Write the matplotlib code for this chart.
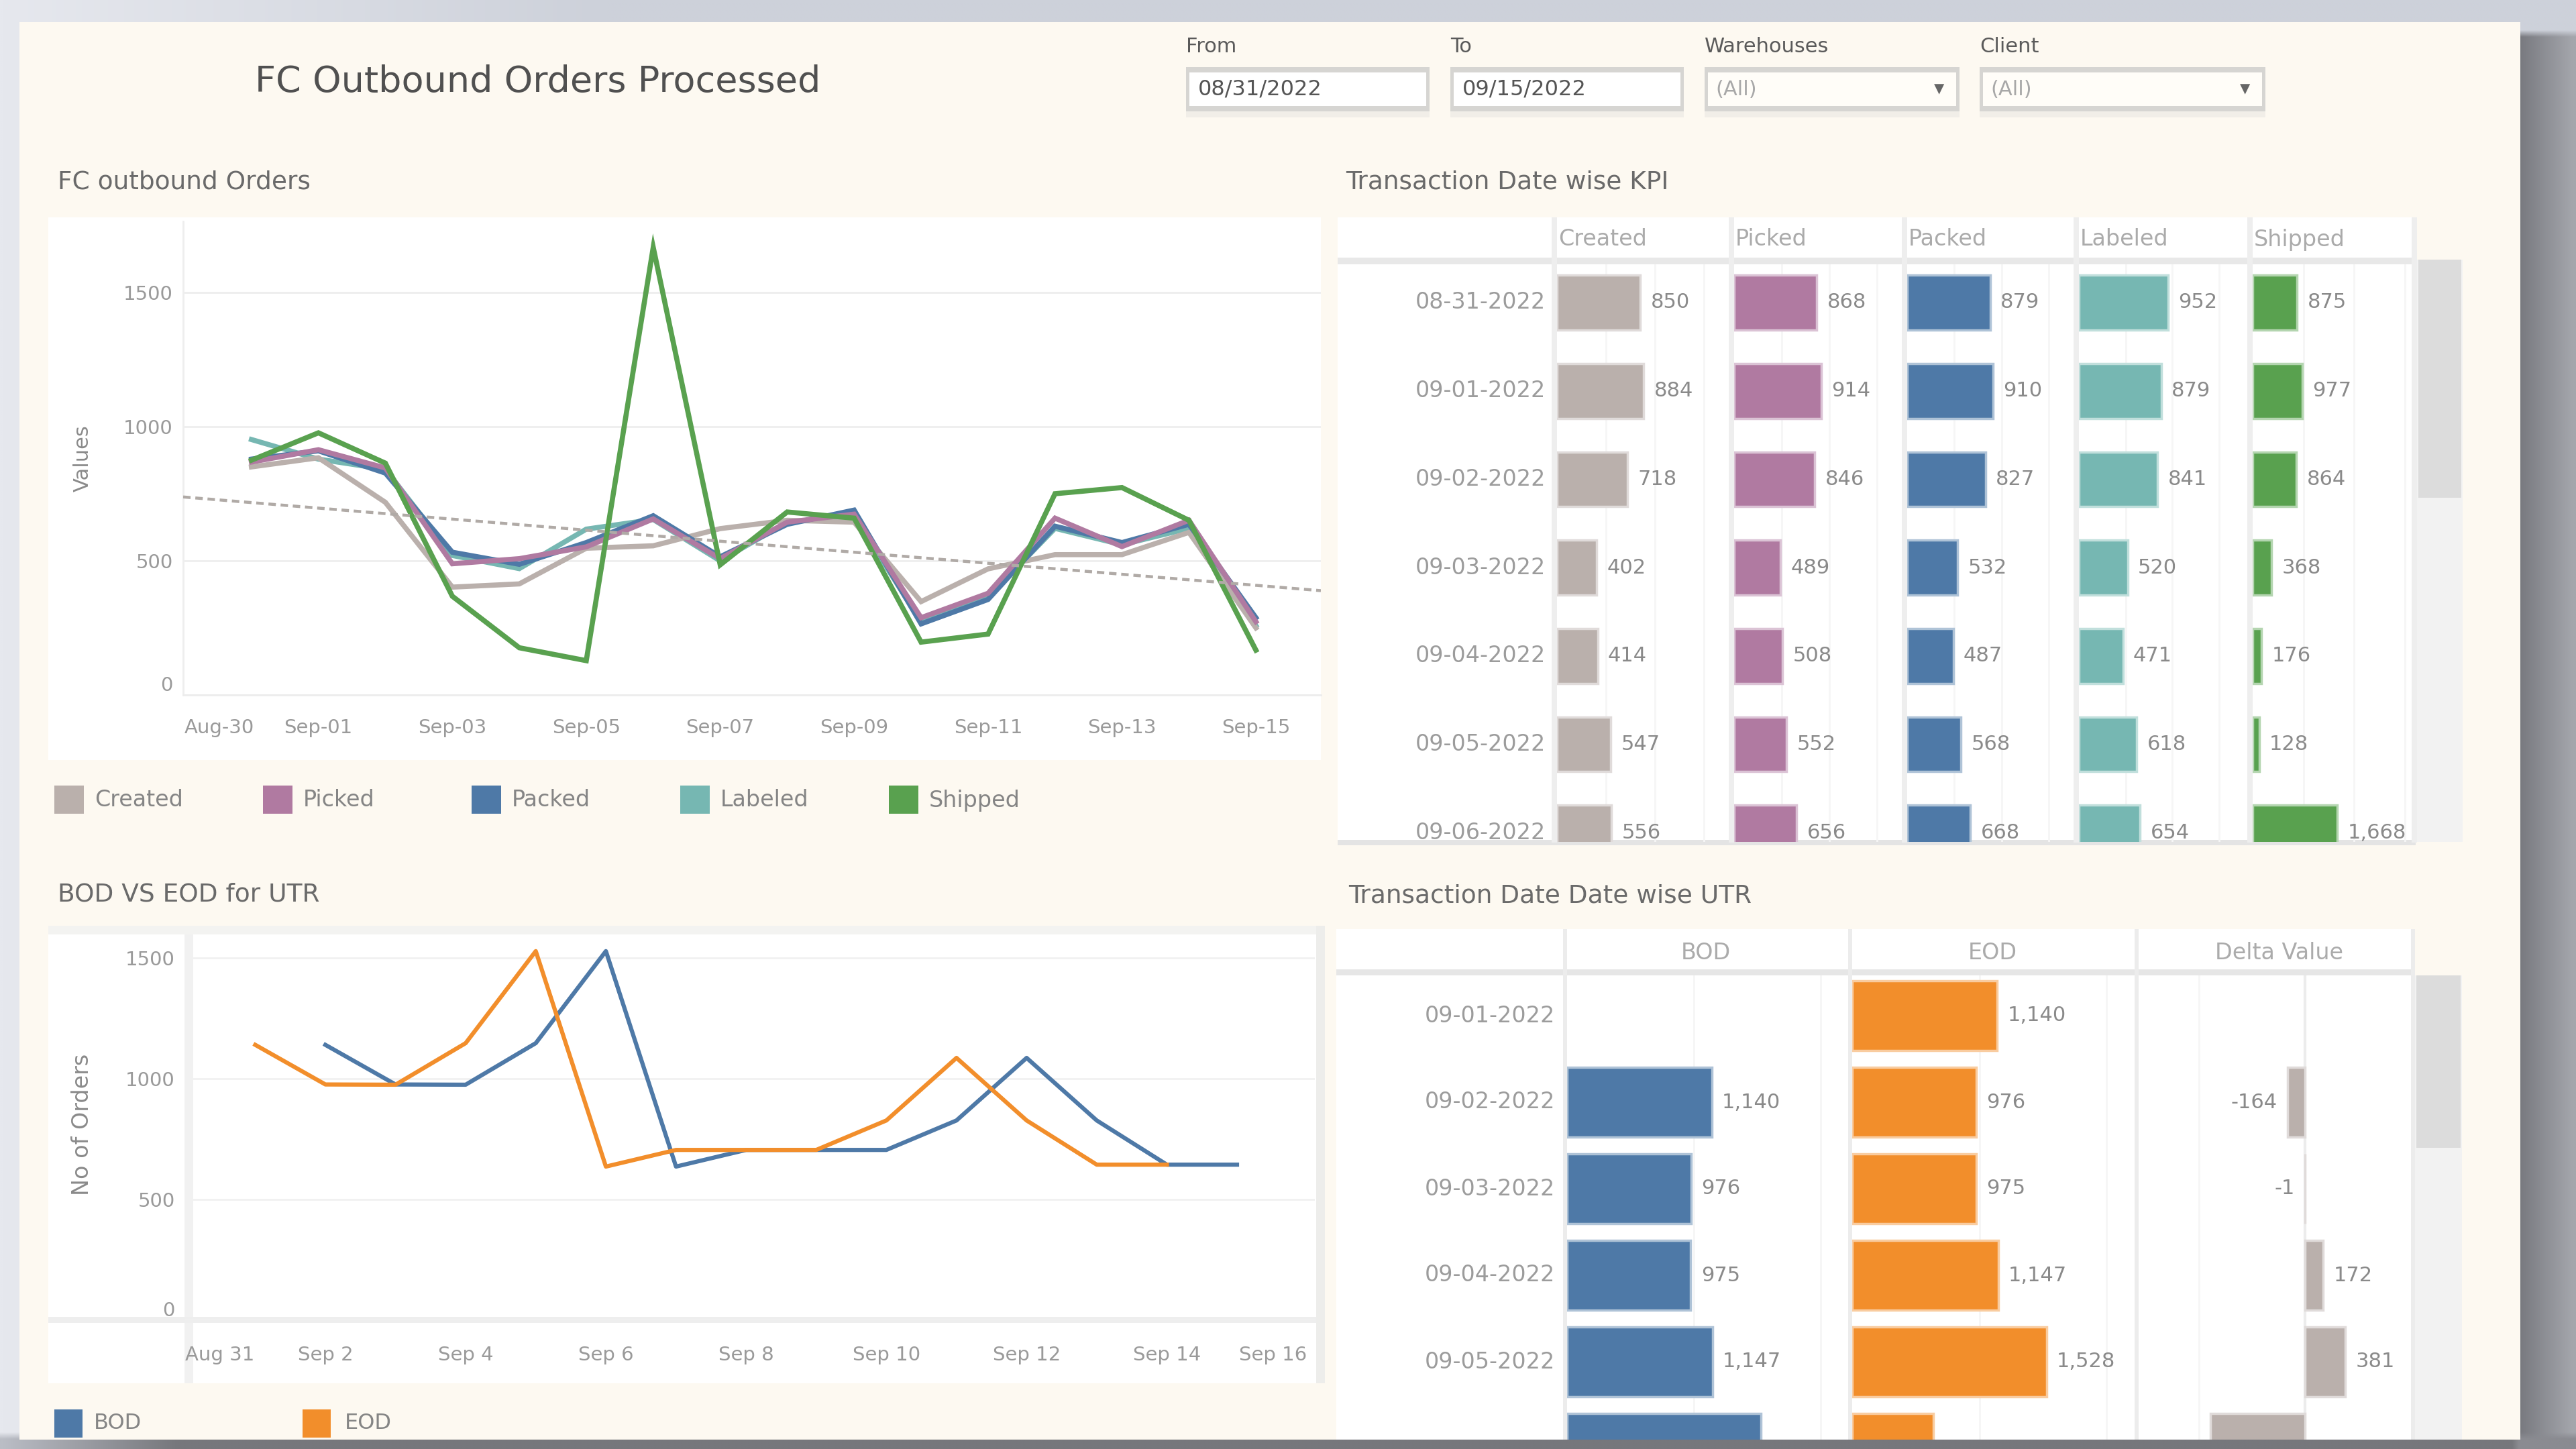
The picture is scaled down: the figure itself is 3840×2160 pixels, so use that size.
import numpy as np
import matplotlib
matplotlib.use("Agg")
import matplotlib.pyplot as plt
import matplotlib.dates as mdates
import matplotlib.colors as mcolors
from matplotlib.patches import Rectangle
import datetime as dt

plt.rcParams['font.family'] = ['DejaVu Sans']

# ------------------------------------------------------------------ data
kpi_dates = ['2022-08-31', '2022-09-01', '2022-09-02', '2022-09-03', '2022-09-04',
             '2022-09-05', '2022-09-06', '2022-09-07', '2022-09-08', '2022-09-09',
             '2022-09-10', '2022-09-11', '2022-09-12', '2022-09-13', '2022-09-14',
             '2022-09-15']
created = [850, 884, 718, 402, 414, 547, 556, 620, 651, 644, 348, 470, 523, 523, 606, 250]
picked = [868, 914, 846, 489, 508, 552, 656, 508, 644, 674, 288, 379, 659, 553, 651, 273]
packed = [879, 910, 827, 532, 487, 568, 668, 515, 636, 689, 265, 356, 629, 568, 636, 288]
labeled = [952, 879, 841, 520, 471, 618, 654, 500, 644, 667, 273, 364, 621, 560, 621, 258]
shipped = [875, 977, 864, 368, 176, 128, 1668, 485, 682, 659, 197, 227, 750, 773, 651, 167]
series_names = ['Created', 'Picked', 'Packed', 'Labeled', 'Shipped']

utr_dates = ['2022-09-01', '2022-09-02', '2022-09-03', '2022-09-04', '2022-09-05',
             '2022-09-06', '2022-09-07', '2022-09-08', '2022-09-09', '2022-09-10',
             '2022-09-11', '2022-09-12', '2022-09-13', '2022-09-14', '2022-09-15']
bod = [None, 1140, 976, 975, 1147, 1528, 636, 705, 705, 705, 827, 1086, 827, 644, 644]
eod = [1140, 976, 975, 1147, 1528, 636, 705, 705, 705, 827, 1086, 827, 644, 644, None]

filter_labels = ['From', 'To', 'Warehouses', 'Client']
filter_values = ['08/31/2022', '09/15/2022', '(All)', '(All)']

C_CREATED, C_PICKED, C_PACKED = '#bab0ac', '#b07aa1', '#4e79a7'
C_LABELED, C_SHIPPED, C_ORANGE = '#76b7b2', '#59a14f', '#f28e2b'
series_colors = [C_CREATED, C_PICKED, C_PACKED, C_LABELED, C_SHIPPED]

# ------------------------------------------------------------------ helpers
W, H = 3840, 2160
fig = plt.figure(figsize=(38.4, 21.6), dpi=100)
fig.patch.set_facecolor('#d2d5dd')


def add_ax(x0, y0, x1, y1, **kw):
    ax = fig.add_axes([x0 / W, 1 - y1 / H, (x1 - x0) / W, (y1 - y0) / H], **kw)
    ax.patch.set_alpha(0)
    return ax


def rect(x0, y0, x1, y1, color, z=-4):
    fig.patches.append(Rectangle((x0 / W, 1 - y1 / H), (x1 - x0) / W, (y1 - y0) / H,
                                 transform=fig.transFigure, facecolor=color,
                                 edgecolor='none', zorder=z))


def text(x, y, s, **kw):
    kw.setdefault('va', 'center')
    return fig.text(x / W, 1 - y / H, s, **kw)


def lighten(c, f=0.5):
    r = np.array(mcolors.to_rgb(c))
    return tuple(r + (1 - r) * f)


def rgb(c):
    return np.array(mcolors.to_rgb(c))


TICK = '#9a9a9a'
TITLE = '#6a6a6a'

# ------------------------------------------------------------------ background frame
bg = fig.add_axes([0, 0, 1, 1], zorder=-10)
bg.axis('off')
h, w = 216, 384
xs = np.linspace(0, W, w)
ys = np.linspace(0, H, h)
t = np.clip(xs / 900, 0, 1)
img = ((1 - t)[None, :, None] * rgb('#e6e8ee') + t[None, :, None] * rgb('#cdd1da')) * np.ones((h, 1, 1))
rm = xs > 3757
r = np.clip((xs - 3757) / 83, 0, 1)
right_col = (1 - r)[:, None] * rgb('#76777d') + r[:, None] * rgb('#a4a6ac')
yr = ys > 45
img[np.ix_(yr, rm)] = right_col[rm][None, :, :]
bm = ys > 2146
b = np.clip(xs / 260, 0, 1)
bot_col = (1 - b)[:, None] * rgb('#babdc5') + b[:, None] * rgb('#76777c')
img[np.ix_(bm, ~rm)] = bot_col[~rm][None, :, :]
img[np.ix_(bm, rm)] = rgb('#8a8b91')
bg.imshow(img, extent=[0, W, H, 0], aspect='auto', interpolation='bilinear')
bg.set_xlim(0, W)
bg.set_ylim(H, 0)

# card
rect(29, 33, 3757, 2146, '#fdf9f1', z=-6)

# ------------------------------------------------------------------ header
text(380, 122, 'FC Outbound Orders Processed', size=39, color='#505050')
fx0 = [1768, 2162, 2541, 2951]
fx1 = [2131, 2510, 2921, 3377]
for i, lab in enumerate(filter_labels):
    x0, x1 = fx0[i], fx1[i]
    text(x0, 70, lab, size=22, color='#5a5a5a')
    rect(x0, 100, x1, 166, '#d6d5d2', z=-3)
    rect(x0 + 5, 108, x1 - 5, 158, 'white' if i < 2 else '#fffdf8', z=-2)
    rect(x0, 166, x1, 175, '#f1eee8', z=-3)
    if i < 2:
        text(x0 + 18, 133, filter_values[i], size=23, color='#555555')
    else:
        text(x0 + 16, 133, filter_values[i], size=22, color='#a8a8a8')
        text(x1 - 30, 133, '\u25BE', size=22, color='#666666', ha='center')

# ------------------------------------------------------------------ panel 1: line chart
text(86, 271, 'FC outbound Orders', size=27, color=TITLE)
rect(72, 324, 1969, 1133, 'white')
ax1 = add_ax(273, 330, 1969, 1036)
kd = np.array([mdates.date2num(dt.datetime.strptime(s, '%Y-%m-%d')) for s in kpi_dates])
vals = [created, picked, packed, labeled, shipped]
zorders = [2.1, 2.3, 2.2, 2.0, 2.4]
for v, c, z in zip(vals, series_colors, zorders):
    ax1.plot(kd, v, color=c, lw=5.5, zorder=z, solid_joinstyle='miter')
x_lo, x_hi = kd[0] - 1.02, kd[-1] + 0.97
ax1.set_xlim(x_lo, x_hi)
ax1.set_ylim(0, 1765)
# trend line of Created
slope, icpt = np.polyfit(kd - kd[0], created, 1)
tx = np.array([x_lo, x_hi])
ax1.plot(tx, icpt + slope * (tx - kd[0]), color='#b0aaa6', lw=3.2,
         linestyle=(0, (2.5, 1.6)), zorder=3)
tick_days = np.arange(kd[0] - 1, kd[-1] + 0.5, 2)
ax1.set_xticks(tick_days, labels=[mdates.num2date(d).strftime('%b-%d') for d in tick_days])
ax1.set_yticks([0, 500, 1000, 1500], labels=['0', '500', '1000', '1500'])
ax1.tick_params(axis='both', length=0, labelsize=21, labelcolor=TICK)
ax1.tick_params(axis='x', pad=25)
ax1.tick_params(axis='y', pad=11)
ax1.get_xticklabels()[0].set_ha('left')
ax1.get_yticklabels()[0].set_va('bottom')
ax1.grid(axis='y', color='#eeeeee', lw=2)
ax1.set_axisbelow(True)
for s in ['top', 'right']:
    ax1.spines[s].set_visible(False)
ax1.spines['left'].set_color('#eeeeee')
ax1.spines['left'].set_linewidth(2)
ax1.spines['bottom'].set_color('#ececec')
ax1.spines['bottom'].set_linewidth(2)
text(123, 683, 'Values', size=22, color='#8a8a8a', rotation=90, ha='center')

leg_x = [81, 392, 703, 1014, 1325]
for x, name, c in zip(leg_x, series_names, series_colors):
    rect(x, 1171, x + 44, 1213, c, z=-2)
    text(x + 60, 1193, name, size=24, color='#858585')

# ------------------------------------------------------------------ panel 2: BOD vs EOD
text(86, 1334, 'BOD VS EOD for UTR', size=27, color=TITLE)
rect(72, 1380, 1962, 2062, 'white')
rect(72, 1380, 1975, 1393, '#f3f3f1', z=-3)
rect(1962, 1380, 1975, 2062, '#ededeb', z=-3)
rect(275, 1393, 288, 2062, '#f1f1f1', z=-3)
rect(72, 1963, 1962, 1972, '#eeeeee', z=-3)
ax2 = add_ax(276, 1393, 1960, 1968)
ud = np.array([mdates.date2num(dt.datetime.strptime(s, '%Y-%m-%d')) for s in utr_dates])
bod_a = np.array([np.nan if v is None else v for v in bod], dtype=float)
eod_a = np.array([np.nan if v is None else v for v in eod], dtype=float)
ax2.plot(ud, eod_a, color=C_ORANGE, lw=4.5, zorder=3)
ax2.plot(ud, bod_a, color=C_PACKED, lw=4.5, zorder=2.5)
x2_lo = ud[0] - 1
ax2.set_xlim(x2_lo, x2_lo + 16.11)
ax2.set_ylim(0, 1597)
t2 = np.arange(x2_lo, x2_lo + 16.5, 2)
lab2 = []
for d in t2:
    dd = mdates.num2date(d)
    lab2.append(f"{dd:%b} {dd.day}")
ax2.set_xticks(t2, labels=lab2)
ax2.set_yticks([0, 500, 1000, 1500], labels=['0', '500', '1000', '1500'])
ax2.tick_params(axis='both', length=0, labelsize=21, labelcolor=TICK)
ax2.tick_params(axis='x', pad=27)
ax2.tick_params(axis='y', pad=11)
ax2.get_xticklabels()[0].set_ha('left')
ax2.get_xticklabels()[-1].set_ha('right')
ax2.get_yticklabels()[0].set_va('bottom')
ax2.grid(axis='y', color='#f1f1f1', lw=2)
ax2.set_axisbelow(True)
for s in ax2.spines.values():
    s.set_visible(False)
text(123, 1676, 'No of Orders', size=24, color='#8a8a8a', rotation=90, ha='center')
rect(81, 2101, 123, 2143, C_PACKED, z=-2)
text(140, 2122, 'BOD', size=23, color='#858585')
rect(451, 2101, 493, 2143, C_ORANGE, z=-2)
text(514, 2122, 'EOD', size=23, color='#858585')

# ------------------------------------------------------------------ panel 3: KPI table
text(2006, 272, 'Transaction Date wise KPI', size=27, color=TITLE)
rect(1994, 324, 3601, 1258, 'white')
rect(1994, 384, 3601, 394, '#e8e8e8', z=-3)
rect(1994, 1252, 3601, 1260, '#e4e4e4', z=-3)
for sx in [2313, 2577, 2835, 3091, 3350, 3595]:
    rect(sx, 324, sx + 8, 1256, '#eeeeee', z=-3)
rect(3603, 387, 3671, 1255, '#f2f2f2', z=-3)
rect(3605, 387, 3669, 742, '#dcdcdc', z=-2)

n_rows = 7
pitch = 131.7
kpi_top = (394 - 451) / pitch
kpi_bot = kpi_top + (1255 - 394) / pitch
row_lbl = [dt.datetime.strptime(s, '%Y-%m-%d').strftime('%m-%d-%Y') for s in kpi_dates[:n_rows]]

axl = add_ax(1994, 394, 2313, 1255)
axl.set_xlim(0, 319)
axl.set_ylim(kpi_bot, kpi_top)
axl.axis('off')
for i, lab in enumerate(row_lbl):
    axl.text(310, i, lab, ha='right', va='center', size=24, color='#9c9c9c', clip_on=True)

col_specs = [(2321, 2577, 1750), (2585, 2835, 1760), (2843, 3091, 1760),
             (3099, 3350, 1800), (3358, 3595, 3130)]
for (x0, x1, xmax), name, v, c in zip(col_specs, series_names, vals, series_colors):
    ax = add_ax(x0, 394, x1, 1255)
    vv = v[:n_rows]
    ax.barh(np.arange(n_rows), vv, height=0.62, color=c, edgecolor=lighten(c, 0.55),
            linewidth=2.5, zorder=2)
    ax.set_xlim(0, xmax)
    ax.set_ylim(kpi_bot, kpi_top)
    step = 500 if xmax < 2000 else 1000
    for g in np.arange(step, xmax, step):
        ax.axvline(g, color='#f6f6f6', lw=2, zorder=1)
    for i, val in enumerate(vv):
        ax.annotate(f"{val:,}", (val, i), xytext=(11, 0), textcoords='offset points',
                    va='center', ha='left', size=22, color='#8a8a8a', clip_on=True)
    ax.axis('off')
    text(x0 + 2, 357, name, size=24, color='#ababab')

# ------------------------------------------------------------------ panel 4: UTR table
text(2010, 1336, 'Transaction Date Date wise UTR', size=27, color=TITLE)
rect(1992, 1385, 3599, 2146, 'white')
rect(1992, 1445, 3599, 1454, '#e6e6e6', z=-3)
for sx in [2330, 2755, 3182, 3594]:
    rect(sx, 1385, sx + 6, 2146, '#ececec', z=-3)
rect(3600, 1454, 3670, 2146, '#f2f2f2', z=-3)
rect(3602, 1454, 3668, 1711, '#dcdcdc', z=-2)
for name, cx in [('BOD', 2543), ('EOD', 2970), ('Delta Value', 3398)]:
    text(cx, 1421, name, size=24, color='#ababab', ha='center')

u_rows = 6
upitch = 129.0
u_top = (1454 - 1514) / upitch
u_bot = u_top + (2146 - 1454) / upitch
u_lbl = [dt.datetime.strptime(s, '%Y-%m-%d').strftime('%m-%d-%Y') for s in utr_dates[:u_rows]]
axl2 = add_ax(1992, 1454, 2330, 2146)
axl2.set_xlim(0, 338)
axl2.set_ylim(u_bot, u_top)
axl2.axis('off')
for i, lab in enumerate(u_lbl):
    if i + 0.3 > u_bot:
        continue  # row label lies below the visible area of the scrolled table
    axl2.text(326, i, lab, ha='right', va='center', size=24, color='#9c9c9c', clip_on=True)

delta = eod_a - bod_a
u_specs = [(2336, 2755, (0, 2216), bod_a, C_PACKED, [1000, 2000]),
           (2761, 3182, (0, 2220), eod_a, C_ORANGE, [1000, 2000]),
           (3188, 3594, (-1569, 1000), delta, C_CREATED, [-1000])]
for x0, x1, xl, arr, c, grid in u_specs:
    ax = add_ax(x0, 1454, x1, 2146)
    ax.set_xlim(*xl)
    ax.set_ylim(u_bot, u_top)
    for g in grid:
        ax.axvline(g, color='#f6f6f6', lw=2, zorder=1)
    if xl[0] < 0:
        ax.axvline(0, color='#ececec', lw=3, zorder=1)
    for i in range(u_rows):
        val = arr[i]
        if np.isnan(val):
            continue
        ax.barh(i, val, height=0.8, color=c, edgecolor=lighten(c, 0.55), linewidth=2.5,
                zorder=2)
        if i + 0.3 > u_bot:
            continue
        off = 11 if val >= 0 else -11
        ax.annotate(f"{int(val):,}", (val, i), xytext=(off, 0), textcoords='offset points',
                    va='center', ha='left' if val >= 0 else 'right', size=22,
                    color='#8a8a8a', clip_on=True)
    ax.axis('off')

fig.savefig('out.png', dpi=100, facecolor=fig.get_facecolor())
